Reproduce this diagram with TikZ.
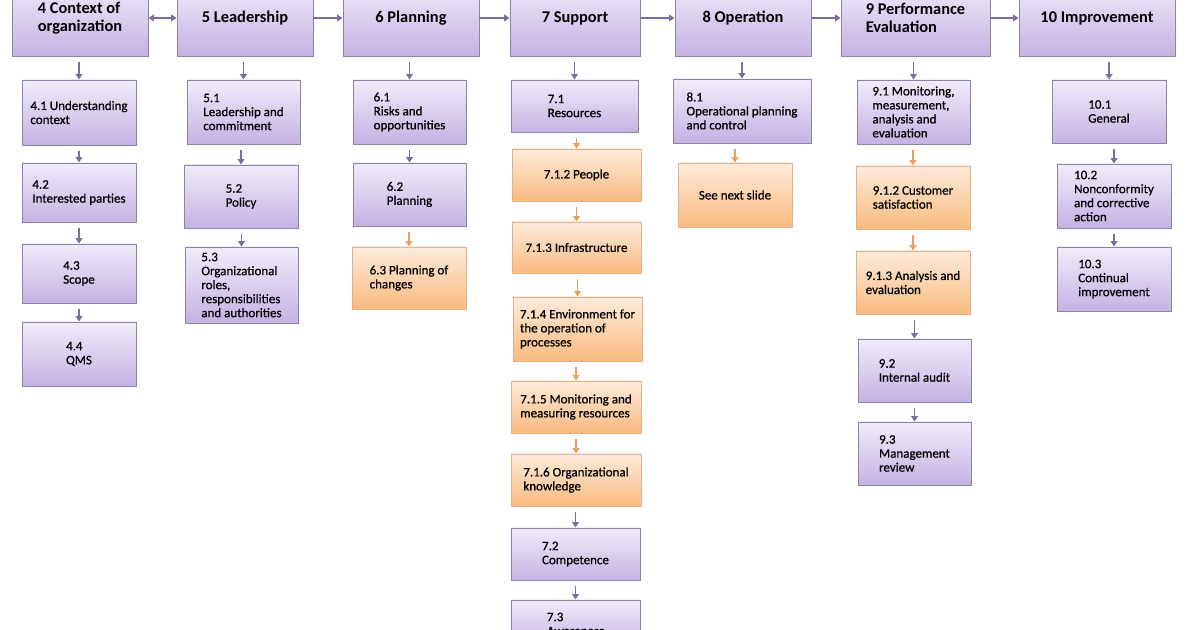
\documentclass[tikz,border=0pt]{standalone}
\usepackage{fontspec}
\setmainfont{Carlito}
\newfontfamily\boxfont{Carlito}[FakeBold=0.7]
\usetikzlibrary{arrows.meta,shadows}
\definecolor{pTop}{HTML}{F1ECFA}
\definecolor{pBot}{HTML}{C4B2E3}
\definecolor{pLine}{HTML}{8A84A6}
\definecolor{oTop}{HTML}{FDEBDB}
\definecolor{oBot}{HTML}{F9BB80}
\definecolor{oLine}{HTML}{E3B28A}
\definecolor{pArr}{HTML}{7A6E9E}
\definecolor{oArr}{HTML}{EC9F5C}
\newcommand\mybox[7]{\node[#6, minimum width={(#4-#2)*0.75pt}, minimum height={(#5-#3)*0.75pt}] (#1) at ({(#2+#4)/2},{(#3+#5)/2}) {#7};}
\tikzset{
  basebox/.style={rectangle, inner sep=0pt, align=left, draw, line width=0.7pt,
    drop shadow={shadow xshift=0.9pt, shadow yshift=-0.9pt, fill=black, opacity=0.25}},
  pbox/.style={basebox, draw=pLine, top color=pTop, bottom color=pBot,
    font=\boxfont\fontsize{9.75pt}{10.5pt}\selectfont},
  obox/.style={basebox, draw=oLine, top color=oTop, bottom color=oBot,
    font=\boxfont\fontsize{9.75pt}{10.5pt}\selectfont},
  tbox/.style={pbox, font=\bfseries\fontsize{12.3pt}{13.3pt}\selectfont},
  parr/.style={draw=pArr, line width=1.1pt, -{Triangle[length=4pt,width=5pt]}, shorten <=4pt},
  oarr/.style={draw=oArr, line width=1.1pt, -{Triangle[length=4pt,width=5pt]}, shorten <=4pt},
  harr/.style={draw=pArr, line width=1.1pt, -{Triangle[length=4pt,width=5pt]}},
  dharr/.style={draw=pArr, line width=1.1pt, {Triangle[length=4pt,width=5pt]}-{Triangle[length=4pt,width=5pt]}}
}
\begin{document}
\begin{tikzpicture}[x=0.75pt,y=-0.75pt]
\useasboundingbox (0,0) rectangle (1200,630);
\fill[white] (0,0) rectangle (1200,630);
\clip (0,0) rectangle (1200,630);
% top row
\mybox{b4}{12}{-20}{148}{56}{tbox}{4 Context of\\organization}
\mybox{b5}{177}{-20}{313}{56}{tbox}{5 Leadership}
\mybox{b6}{343}{-20}{479}{56}{tbox}{6 Planning}
\mybox{b7}{510}{-20}{640}{56}{tbox}{7 Support}
\mybox{b8}{675}{-20}{811}{56}{tbox}{8 Operation}
\mybox{b9}{841}{-20}{990}{56}{tbox}{9 Performance\\Evaluation}
\mybox{b10}{1019}{-20}{1175}{56}{tbox}{10 Improvement}
% column 4
\mybox{b41}{22}{80}{136}{145}{pbox}{4.1 Understanding\\context}
\mybox{b42}{22}{163}{136}{222}{pbox}{4.2\\Interested parties}
\mybox{b43}{22}{244}{136}{303}{pbox}{4.3\\Scope}
\mybox{b44}{22}{322}{136}{386}{pbox}{4.4\\QMS}
% column 5
\mybox{b51}{187}{80}{300}{144}{pbox}{5.1\\Leadership and\\commitment}
\mybox{b52}{184}{165}{298}{228}{pbox}{5.2\\Policy}
\mybox{b53}{185}{247}{298}{323}{pbox}{5.3\\Organizational\\roles,\\responsibilities\\and authorities}
% column 6
\mybox{b61}{353}{80}{466}{144}{pbox}{6.1\\Risks and\\opportunities}
\mybox{b62}{353}{163}{466}{226}{pbox}{6.2\\Planning}
\mybox{b63}{352}{247}{466}{309}{obox}{6.3 Planning of\\changes}
% column 7
\mybox{b71}{511}{80}{638}{132}{pbox}{7.1\\Resources}
\mybox{b712}{512}{149}{641}{201}{obox}{7.1.2 People}
\mybox{b713}{512}{222}{641}{273}{obox}{7.1.3 Infrastructure}
\mybox{b714}{513}{297}{642}{361}{obox}{7.1.4 Environment for\\the operation of\\processes}
\mybox{b715}{511}{381}{641}{433}{obox}{7.1.5 Monitoring and\\measuring resources}
\mybox{b716}{511}{454}{641}{506}{obox}{7.1.6 Organizational\\knowledge}
\mybox{b72}{511}{528}{640}{580}{pbox}{7.2\\Competence}
\mybox{b73}{511}{600}{640}{648}{pbox}{7.3\\Awareness}
% column 8
\mybox{b81}{673}{79}{811}{143}{pbox}{8.1\\Operational planning\\and control}
\mybox{b8n}{678}{163}{792}{227}{obox}{See next slide}
% column 9
\mybox{b91}{857}{80}{970}{144}{pbox}{9.1 Monitoring,\\measurement,\\analysis and\\evaluation}
\mybox{b912}{856}{166}{970}{229}{obox}{9.1.2 Customer\\satisfaction}
\mybox{b913}{856}{251}{970}{314}{obox}{9.1.3 Analysis and\\evaluation}
\mybox{b92}{858}{339}{971}{402}{pbox}{9.2\\Internal audit}
\mybox{b93}{858}{422}{971}{485}{pbox}{9.3\\Management\\review}
% column 10
\mybox{b101}{1052}{80}{1166}{143}{pbox}{10.1\\General}
\mybox{b102}{1057}{164}{1171}{228}{pbox}{10.2\\Nonconformity\\and corrective\\action}
\mybox{b103}{1057}{247}{1171}{311}{pbox}{10.3\\Continual\\improvement}
% horizontal arrows
\draw[dharr] (b4.east) -- (b5.west);
\draw[harr] (b5.east) -- (b6.west);
\draw[harr] (b6.east) -- (b7.west);
\draw[harr] (b7.east) -- (b8.west);
\draw[harr] (b8.east) -- (b9.west);
\draw[harr] (b9.east) -- (b10.west);
% vertical arrows
\draw[parr] (b4.south -| b41.north) -- (b41.north);
\draw[parr] (b41.south -| b42.north) -- (b42.north);
\draw[parr] (b42.south -| b43.north) -- (b43.north);
\draw[parr] (b43.south -| b44.north) -- (b44.north);
\draw[parr] (b5.south -| b51.north) -- (b51.north);
\draw[parr] (b51.south -| b52.north) -- (b52.north);
\draw[parr] (b52.south -| b53.north) -- (b53.north);
\draw[parr] (b6.south -| b61.north) -- (b61.north);
\draw[parr] (b61.south -| b62.north) -- (b62.north);
\draw[oarr] (b62.south -| b63.north) -- (b63.north);
\draw[parr] (b7.south -| b71.north) -- (b71.north);
\draw[oarr] (b71.south -| b712.north) -- (b712.north);
\draw[oarr] (b712.south -| b713.north) -- (b713.north);
\draw[oarr] (b713.south -| b714.north) -- (b714.north);
\draw[oarr] (b714.south -| b715.north) -- (b715.north);
\draw[oarr] (b715.south -| b716.north) -- (b716.north);
\draw[parr] (b716.south -| b72.north) -- (b72.north);
\draw[parr] (b72.south -| b73.north) -- (b73.north);
\draw[parr] (b8.south -| b81.north) -- (b81.north);
\draw[oarr] (b81.south -| b8n.north) -- (b8n.north);
\draw[parr] (b9.south -| b91.north) -- (b91.north);
\draw[oarr] (b91.south -| b912.north) -- (b912.north);
\draw[oarr] (b912.south -| b913.north) -- (b913.north);
\draw[parr] (b913.south -| b92.north) -- (b92.north);
\draw[parr] (b92.south -| b93.north) -- (b93.north);
\draw[parr] (b10.south -| b101.north) -- (b101.north);
\draw[parr] (b101.south -| b102.north) -- (b102.north);
\draw[parr] (b102.south -| b103.north) -- (b103.north);
\end{tikzpicture}
\end{document}
